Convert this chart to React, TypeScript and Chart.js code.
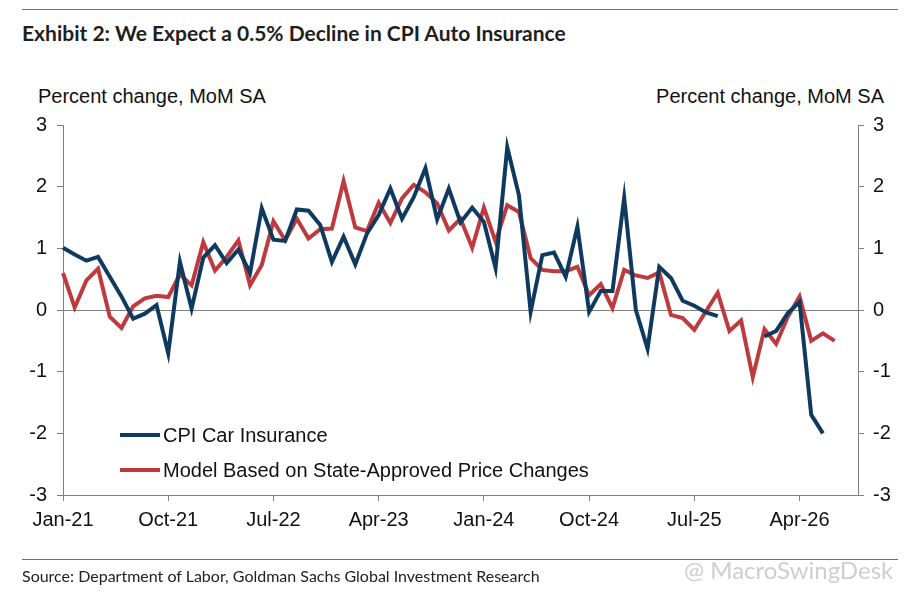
import React, { useEffect, useRef } from "react";
import { Chart, registerables } from "chart.js";

Chart.register(...registerables);

const months = ["Jan", "Feb", "Mar", "Apr", "May", "Jun", "Jul", "Aug", "Sep", "Oct", "Nov", "Dec"];
const years = ["21", "22", "23", "24", "25", "26"];
// Monthly categories Jan-21 .. Sep-26
const categories: string[] = [];
years.forEach((y) => months.forEach((m) => categories.push(`${m}-${y}`)));
categories.splice(69);

const cpiCarInsurance: (number | null)[] = [
  1.01, 0.9, 0.8, 0.86, 0.54, 0.22, -0.14, -0.06, 0.08, -0.7, 0.78, 0.02,
  0.85, 1.05, 0.76, 0.98, 0.6, 1.65, 1.14, 1.12, 1.63, 1.61, 1.38, 0.78,
  1.19, 0.74, 1.24, 1.54, 1.97, 1.48, 1.83, 2.3, 1.47, 1.97, 1.42, 1.66,
  1.43, 0.68, 2.64, 1.86, -0.03, 0.89, 0.93, 0.54, 1.35, -0.03, 0.31, 0.31,
  1.82, 0.0, -0.63, 0.7, 0.52, 0.15, 0.07, -0.04, -0.1, null, null, null,
  -0.43, -0.34, -0.05, 0.13, -1.7, -2.0, null, null, null,
];

const modelStateApproved: (number | null)[] = [
  0.6, 0.04, 0.48, 0.67, -0.11, -0.29, 0.06, 0.19, 0.23, 0.21, 0.58, 0.4,
  1.1, 0.64, 0.86, 1.13, 0.4, 0.73, 1.44, 1.13, 1.48, 1.16, 1.31, 1.32,
  2.09, 1.34, 1.28, 1.74, 1.41, 1.81, 2.03, 1.91, 1.73, 1.29, 1.48, 1.01,
  1.66, 1.11, 1.7, 1.59, 0.84, 0.65, 0.63, 0.63, 0.7, 0.24, 0.42, 0.03,
  0.65, 0.56, 0.52, 0.61, -0.08, -0.13, -0.32, -0.02, 0.28, -0.34, -0.17, -1.09,
  -0.31, -0.55, -0.11, 0.22, -0.5, -0.38, -0.5, null, null,
];

const seriesNames = ["CPI Car Insurance", "Model Based on State-Approved Price Changes"];
const seriesColors = ["#0f3a5f", "#bf3a3e"];
const yTicks = [-3, -2, -1, 0, 1, 2, 3];
const xLabelEvery = 9;

const AXIS = "#808080";
const TEXT = "#111111";
const SANS = "'Liberation Sans', Arial, sans-serif";

const legendPlugin = {
  id: "insideLegend",
  afterDraw(chart: any) {
    const ctx = chart.ctx;
    const area = chart.chartArea;
    const x0 = area.left + 57;
    const ys = [area.bottom - 60, area.bottom - 25];
    ctx.save();
    seriesNames.forEach((name, i) => {
      ctx.strokeStyle = seriesColors[i];
      ctx.lineWidth = 4;
      ctx.beginPath();
      ctx.moveTo(x0, ys[i]);
      ctx.lineTo(x0 + 40, ys[i]);
      ctx.stroke();
      ctx.fillStyle = TEXT;
      ctx.font = `20px ${SANS}`;
      ctx.textBaseline = "middle";
      ctx.textAlign = "left";
      ctx.fillText(name, x0 + 43, ys[i] + 1);
    });
    ctx.restore();
  },
};

export default function App() {
  const ref = useRef<HTMLCanvasElement | null>(null);

  useEffect(() => {
    document.body.style.margin = "0";
    if (!ref.current) return;
    const tickFont = { family: SANS, size: 20 };
    const chart = new Chart(ref.current, {
      type: "line",
      data: {
        labels: categories,
        datasets: [
          {
            label: seriesNames[0],
            data: cpiCarInsurance,
            borderColor: seriesColors[0],
            backgroundColor: seriesColors[0],
            borderWidth: 4,
            pointRadius: 0,
            tension: 0,
            spanGaps: false,
            yAxisID: "y",
          },
          {
            label: seriesNames[1],
            data: modelStateApproved,
            borderColor: seriesColors[1],
            backgroundColor: seriesColors[1],
            borderWidth: 4,
            pointRadius: 0,
            tension: 0,
            spanGaps: false,
            yAxisID: "y",
          },
        ],
      },
      options: {
        responsive: false,
        animation: false,
        devicePixelRatio: 1,
        layout: { padding: { top: 125, left: 0, right: 0, bottom: 0 } },
        plugins: { legend: { display: false }, tooltip: { enabled: false }, title: { display: false } },
        scales: {
          x: {
            type: "category",
            offset: false,
            grid: {
              drawOnChartArea: false,
              tickLength: 6,
              tickColor: AXIS,
              color: AXIS,
            },
            border: { color: AXIS, width: 1 },
            ticks: {
              autoSkip: false,
              maxRotation: 0,
              minRotation: 0,
              padding: 7,
              color: TEXT,
              font: tickFont,
              callback: (_v: any, i: number) => (i % xLabelEvery === 0 ? categories[i] : null),
            },
            afterFit: (s: any) => {
              s.height = 97;
            },
          },
          y: {
            position: "left",
            min: -3,
            max: 3,
            afterBuildTicks: (s: any) => {
              s.ticks = yTicks.map((v) => ({ value: v }));
            },
            grid: {
              tickLength: 6,
              tickColor: AXIS,
              lineWidth: 1,
              color: (c: any) => (c.tick && c.tick.value === 0 ? AXIS : "rgba(0,0,0,0)"),
            },
            border: { color: AXIS, width: 1 },
            ticks: { padding: 10, color: TEXT, font: tickFont },
            afterFit: (s: any) => {
              s.width = 63;
            },
          },
          y2: {
            position: "right",
            min: -3,
            max: 3,
            afterBuildTicks: (s: any) => {
              s.ticks = yTicks.map((v) => ({ value: v }));
            },
            grid: { drawOnChartArea: false, tickLength: 6, tickColor: AXIS },
            border: { color: AXIS, width: 1 },
            ticks: { padding: 9, color: TEXT, font: tickFont },
            afterFit: (s: any) => {
              s.width = 56;
            },
          },
        },
      },
      plugins: [legendPlugin],
    } as any);
    return () => chart.destroy();
  }, []);

  const abs = (style: React.CSSProperties): React.CSSProperties => ({ position: "absolute", whiteSpace: "nowrap", ...style });

  return (
    <div style={{ position: "relative", width: 914, height: 592, background: "#ffffff", overflow: "hidden" }}>
      <div style={abs({ left: 22, top: 9, width: 876, height: 0, borderTop: "1px solid #707070" })} />
      <div
        style={abs({
          left: 22,
          top: 18,
          fontFamily: "Lato, sans-serif",
          fontWeight: 700,
          fontSize: 21,
          color: "#1e1e1e",
          lineHeight: "30px",
        })}
      >
        Exhibit 2: We Expect a 0.5% Decline in CPI Auto Insurance
      </div>
      <div style={abs({ left: 38, top: 83, fontFamily: SANS, fontSize: 20, color: TEXT, lineHeight: "26px" })}>
        Percent change, MoM SA
      </div>
      <div style={abs({ right: 30, top: 83, fontFamily: SANS, fontSize: 20, color: TEXT, lineHeight: "26px" })}>
        Percent change, MoM SA
      </div>
      <canvas ref={ref} width={914} height={592} style={{ position: "absolute", left: 0, top: 0, width: 914, height: 592 }} />
      <div style={abs({ left: 22, top: 559, width: 876, height: 0, borderTop: "1px solid #707070" })} />
      <div style={abs({ left: 22, top: 566, fontFamily: "Lato, sans-serif", fontSize: 16, color: "#222222", lineHeight: "20px" })}>
        Source: Department of Labor, Goldman Sachs Global Investment Research
      </div>
      <div
        style={abs({
          left: 684,
          top: 555,
          fontFamily: "Lato, sans-serif",
          fontSize: 24,
          color: "rgba(190,190,190,0.75)",
          lineHeight: "30px",
        })}
      >
        @ MacroSwingDesk
      </div>
    </div>
  );
}
